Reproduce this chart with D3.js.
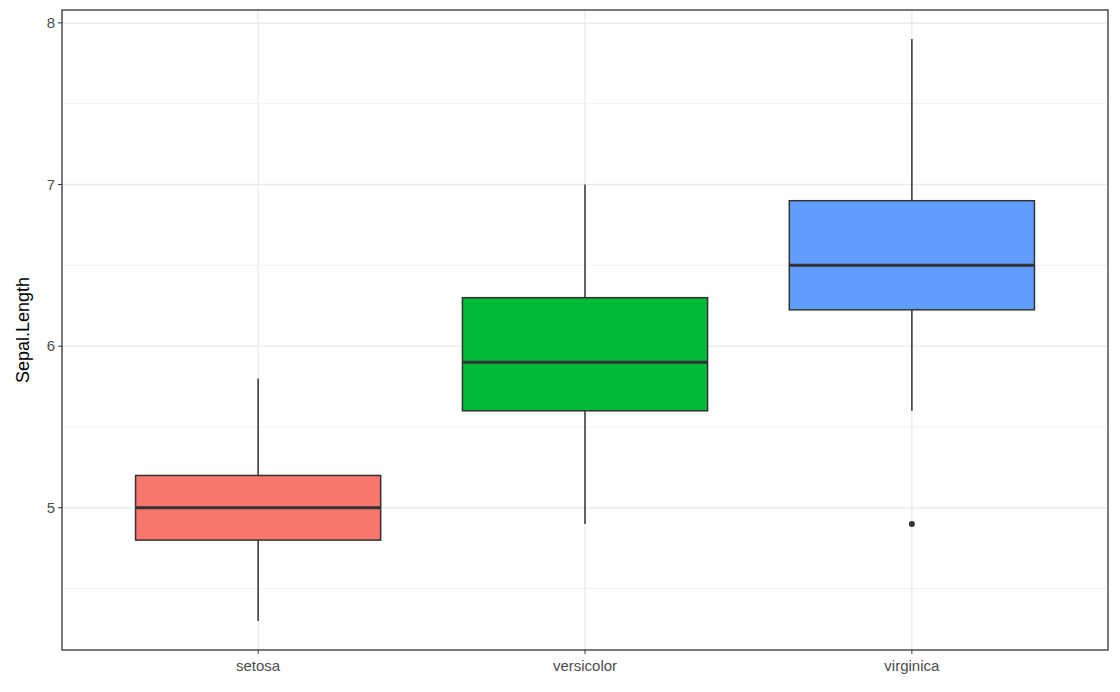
<!DOCTYPE html>
<html><head><meta charset="utf-8">
<script src="https://cdn.jsdelivr.net/npm/d3@7"></script>
<style>body{margin:0;background:#fff}</style></head>
<body><svg id="c" width="1120" height="692"></svg>
<script>
const categories = ["setosa","versicolor","virginica"];
const whiskerLow = [4.3,4.9,5.6];
const q1 = [4.8,5.6,6.225];
const median = [5.0,5.9,6.5];
const q3 = [5.2,6.3,6.9];
const whiskerHigh = [5.8,7.0,7.9];
const outliers = [[],[],[4.9]];
const colors = ["#F8766D","#00BA38","#619CFF"];
const yTicks = [5,6,7,8];

const svg = d3.select("#c");
const L=62,R=1108,T=10,B=650;
const y = d3.scaleLinear().domain([4.12,8.08]).range([B,T]);
const x = d3.scaleLinear().domain([0.4,3.6]).range([L,R]);
const g = svg.append("g");
// grid
const minor=[4.5,5.5,6.5,7.5];
g.selectAll(".mn").data(minor).enter().append("line").attr("x1",L).attr("x2",R)
 .attr("y1",d=>y(d)).attr("y2",d=>y(d)).attr("stroke","#ebebeb").attr("stroke-width",0.7);
g.selectAll(".mj").data(yTicks).enter().append("line").attr("x1",L).attr("x2",R)
 .attr("y1",d=>y(d)).attr("y2",d=>y(d)).attr("stroke","#ebebeb").attr("stroke-width",1.4);
g.selectAll(".mx").data(categories).enter().append("line").attr("y1",T).attr("y2",B)
 .attr("x1",(d,i)=>x(i+1)).attr("x2",(d,i)=>x(i+1)).attr("stroke","#ebebeb").attr("stroke-width",1.4);
const bw = (x(1.375)-x(0.625));
categories.forEach((c,i)=>{
  const cx=x(i+1);
  g.append("line").attr("x1",cx).attr("x2",cx).attr("y1",y(whiskerHigh[i])).attr("y2",y(q3[i])).attr("stroke","#333").attr("stroke-width",1.5);
  g.append("line").attr("x1",cx).attr("x2",cx).attr("y1",y(q1[i])).attr("y2",y(whiskerLow[i])).attr("stroke","#333").attr("stroke-width",1.5);
  g.append("rect").attr("x",cx-bw/2).attr("width",bw).attr("y",y(q3[i])).attr("height",y(q1[i])-y(q3[i]))
   .attr("fill",colors[i]).attr("stroke","#333").attr("stroke-width",1.5);
  g.append("line").attr("x1",cx-bw/2).attr("x2",cx+bw/2).attr("y1",y(median[i])).attr("y2",y(median[i])).attr("stroke","#333").attr("stroke-width",3);
  outliers[i].forEach(o=>g.append("circle").attr("cx",cx).attr("cy",y(o)).attr("r",3).attr("fill","#333"));
});
g.append("rect").attr("x",L).attr("y",T).attr("width",R-L).attr("height",B-T).attr("fill","none").attr("stroke","#333").attr("stroke-width",1.3);
// ticks
yTicks.forEach(t=>{
  g.append("line").attr("x1",L-4).attr("x2",L).attr("y1",y(t)).attr("y2",y(t)).attr("stroke","#333");
  g.append("text").attr("x",L-7).attr("y",y(t)).attr("dy","0.35em").attr("text-anchor","end")
   .attr("font-family","Liberation Sans, Arial").attr("font-size",15).attr("fill","#4d4d4d").text(t);
});
categories.forEach((c,i)=>{
  g.append("line").attr("x1",x(i+1)).attr("x2",x(i+1)).attr("y1",B).attr("y2",B+4).attr("stroke","#333");
  g.append("text").attr("x",x(i+1)).attr("y",B+21).attr("text-anchor","middle")
   .attr("font-family","Liberation Sans, Arial").attr("font-size",15).attr("fill","#4d4d4d").text(c);
});
g.append("text").attr("transform",`translate(29,${(T+B)/2}) rotate(-90)`).attr("text-anchor","middle")
 .attr("font-family","Liberation Sans, Arial").attr("font-size",18).attr("fill","#000").text("Sepal.Length");
</script></body></html>
